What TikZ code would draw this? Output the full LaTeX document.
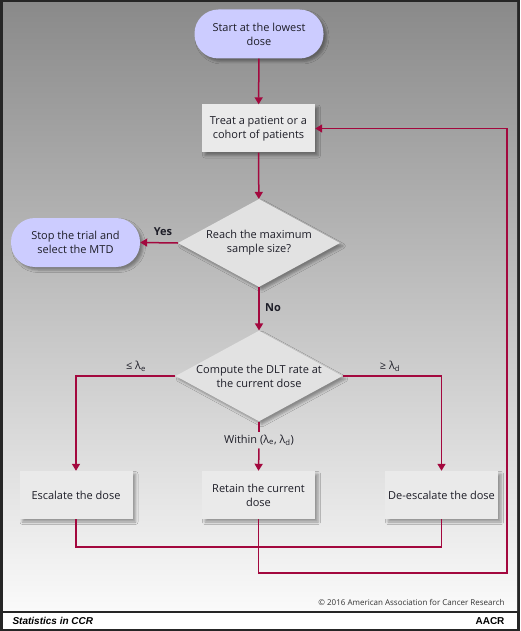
\documentclass[tikz,border=0pt]{standalone}
\usepackage{fontspec}
\setmainfont{Open Sans}
\newfontfamily\footfont{Liberation Sans}
\usetikzlibrary{shapes.geometric,arrows.meta,shadows.blur}
\definecolor{crim}{RGB}{163,8,62}
\definecolor{lav}{RGB}{204,204,255}
\definecolor{boxgray}{RGB}{234,234,234}
\definecolor{diagray}{RGB}{226,226,226}
\definecolor{framec}{RGB}{38,38,38}
\definecolor{txt}{RGB}{30,30,40}
\tikzset{
  base/.style={font=\fontsize{11}{14}\selectfont, text=txt, align=center, inner sep=0pt,
    blur shadow={shadow xshift=3pt, shadow yshift=-3pt, shadow blur radius=2.5pt, shadow opacity=35}},
  pill/.style={base, fill=lav, rounded corners=24pt, minimum width=129pt, minimum height=49pt},
  procbox/.style={base, fill=boxgray, minimum width=113pt, minimum height=48pt},
  decide/.style={base, fill=diagray, shape=diamond, aspect=1.84, minimum width=162pt, minimum height=88pt},
  conn/.style={draw=crim, line width=1.5pt},
  arr/.style={conn, -{Triangle[width=8pt,length=7pt]}},
  lbl/.style={font=\fontsize{11}{14}\selectfont, text=txt, inner sep=1pt},
  blbl/.style={lbl, font=\fontsize{11}{14}\selectfont\bfseries}
}
\begin{document}
\begin{tikzpicture}[x=1pt,y=-1pt]
\useasboundingbox (0,0) rectangle (520,631);
\fill[framec] (0,0) rectangle (520,631);
\shade[top color={rgb,255:red,138;green,138;blue,138}, bottom color={rgb,255:red,250;green,250;blue,250}] (3,3) rectangle (517,610);
\fill[white] (3,613) rectangle (517,629);

\node[pill] (start) at (259,34) {Start at the lowest\\dose};
\node[procbox] (treat) at (258.5,128.5) {Treat a patient or a\\cohort of patients};
\node[decide] (d1) at (259,243) {Reach the maximum\\sample size?};
\node[pill] (stop) at (75.5,242.5) {Stop the trial and\\select the MTD};
\node[decide] (d2) at (259,376) {Compute the DLT rate at\\the current dose};
\node[procbox] (esc) at (76,495) {Escalate the dose};
\node[procbox] (ret) at (258.5,495) {Retain the current\\dose};
\node[procbox] (desc) at (441.5,495) {De-escalate the dose};

\node[blbl] (yes) at (163,232) {Yes};
\node[blbl, anchor=west] (no) at (264,308) {No};
\node[lbl] (le) at (136,366) {≤ λ\textsubscript{e}};
\node[lbl] (ge) at (390,366) {≥ λ\textsubscript{d}};
\node[lbl, inner sep=3pt] (within) at (259,440) {Within (λ\textsubscript{e}, λ\textsubscript{d})};

\coordinate (loopb) at (259,547);
\coordinate (loopbr) at (507,573);

\draw[arr] (start) -- (treat);
\draw[arr] (treat) -- (d1);
\draw[arr] (d1.west) -- (stop.east);
\draw[arr] (d1.south) -- (d2.north);
\draw[arr] (d2.west) -| (esc.north);
\draw[arr] (d2.east) -| (desc.north);
\draw[conn] (d2.south) -- (within.north);
\draw[arr] (within.south) -- (ret.north);
\draw[conn] (esc.south) |- (loopb) -| (desc.south);
\draw[arr] (ret.south) |- (loopbr) |- (treat.east);

\node[anchor=east, font=\fontsize{8}{9}\selectfont, text={rgb,255:red,50;green,50;blue,50}] (copy) at (508,602) {© 2016 American Association for Cancer Research};
\node[anchor=west, font=\footfont\bfseries\itshape\fontsize{10}{12}\selectfont] (ftitle) at (9,621) {Statistics in CCR};
\node[anchor=east, font=\footfont\bfseries\fontsize{10}{12}\selectfont] (logo) at (508,621) {AACR};
\end{tikzpicture}
\end{document}
